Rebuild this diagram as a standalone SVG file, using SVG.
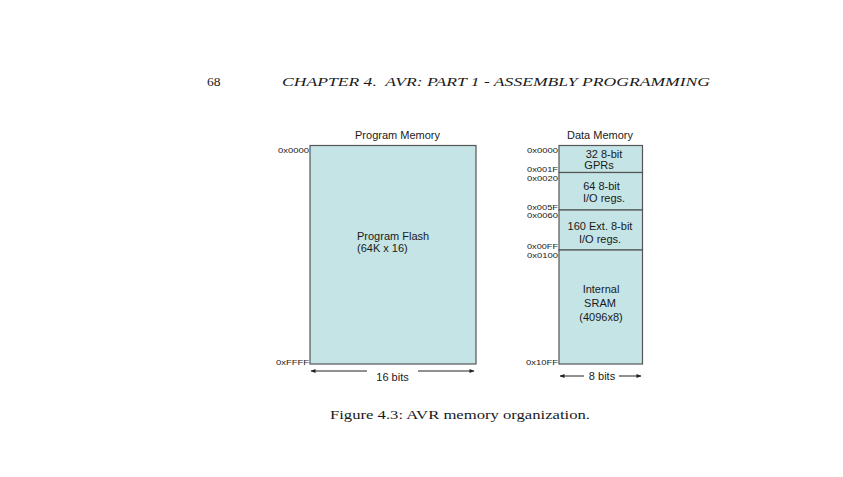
<svg xmlns="http://www.w3.org/2000/svg" width="843" height="477" viewBox="0 0 843 477">
<defs>
<marker id="ah" viewBox="0 0 10 10" refX="9" refY="5" markerWidth="7" markerHeight="5" orient="auto-start-reverse" markerUnits="userSpaceOnUse">
<path d="M0,1 L10,5 L0,9 z" fill="#222"/>
</marker>
<style>
.box{fill:#c4e4e6;stroke:#555;stroke-width:1.2}
.s{font-family:"Liberation Sans",Arial,sans-serif;fill:#1a1a1a}
.t{font-size:11px}
.a{font-size:7.4px;text-anchor:end}
.c{text-anchor:middle}
.serif{font-family:"Liberation Serif","Times New Roman",serif;fill:#1a1a1a}
.ln{stroke:#222;stroke-width:1;fill:none}
</style>
</defs>
<rect width="843" height="477" fill="#fff"/>
<text class="serif" x="207" y="86" font-size="13.5">68</text>
<text class="serif" x="282" y="86" font-size="13.5" font-style="italic" xml:space="preserve" textLength="428" lengthAdjust="spacingAndGlyphs">CHAPTER 4.  AVR: PART 1 - ASSEMBLY PROGRAMMING</text>

<g id="program-memory">
<text class="s t c" x="397.5" y="139">Program Memory</text>
<rect class="box" x="310" y="145.5" width="166" height="218.5"/>
<text class="s t" x="357" y="240">Program Flash</text>
<text class="s t" x="357" y="252">(64K x 16)</text>
<text class="s a" x="309" y="152.5" textLength="31" lengthAdjust="spacingAndGlyphs">0x0000</text>
<text class="s a" x="309" y="364.5" textLength="33" lengthAdjust="spacingAndGlyphs">0xFFFF</text>
<text class="s t c" x="392.5" y="381">16 bits</text>
</g>

<g id="data-memory">
<text class="s t c" x="600" y="139">Data Memory</text>
<rect class="box" x="559" y="145.5" width="83.5" height="27"/>
<rect class="box" x="559" y="172.5" width="83.5" height="37.5"/>
<rect class="box" x="559" y="210" width="83.5" height="40"/>
<rect class="box" x="559" y="250" width="83.5" height="114"/>
<text class="s t c" x="604" y="157.5">32 8-bit</text>
<text class="s t c" x="599" y="169">GPRs</text>
<text class="s t c" x="601.5" y="189.5">64 8-bit</text>
<text class="s t c" x="604" y="202">I/O regs.</text>
<text class="s t c" x="600" y="229.5">160 Ext. 8-bit</text>
<text class="s t c" x="600" y="243">I/O regs.</text>
<text class="s t c" x="601" y="293">Internal</text>
<text class="s t c" x="600" y="307">SRAM</text>
<text class="s t c" x="601" y="321">(4096x8)</text>
<text class="s a" x="558" y="152.5" textLength="31" lengthAdjust="spacingAndGlyphs">0x0000</text>
<text class="s a" x="558" y="172" textLength="31" lengthAdjust="spacingAndGlyphs">0x001F</text>
<text class="s a" x="558" y="180.5" textLength="31" lengthAdjust="spacingAndGlyphs">0x0020</text>
<text class="s a" x="558" y="209.5" textLength="31" lengthAdjust="spacingAndGlyphs">0x005F</text>
<text class="s a" x="558" y="218" textLength="31" lengthAdjust="spacingAndGlyphs">0x0060</text>
<text class="s a" x="558" y="249" textLength="31" lengthAdjust="spacingAndGlyphs">0x00FF</text>
<text class="s a" x="558" y="258" textLength="31" lengthAdjust="spacingAndGlyphs">0x0100</text>
<text class="s a" x="558" y="364.5" textLength="32" lengthAdjust="spacingAndGlyphs">0x10FF</text>
<text class="s t c" x="602" y="380">8 bits</text>
</g>

<g id="connectors">
<line class="ln" x1="367" y1="371" x2="311" y2="371" marker-end="url(#ah)"/>
<line class="ln" x1="418" y1="371" x2="474" y2="371" marker-end="url(#ah)"/>
<line class="ln" x1="584" y1="376" x2="560" y2="376" marker-end="url(#ah)"/>
<line class="ln" x1="619" y1="376" x2="641" y2="376" marker-end="url(#ah)"/>
</g>

<text class="serif" x="330" y="419" font-size="13.5" textLength="260" lengthAdjust="spacingAndGlyphs">Figure 4.3: AVR memory organization.</text>
</svg>
